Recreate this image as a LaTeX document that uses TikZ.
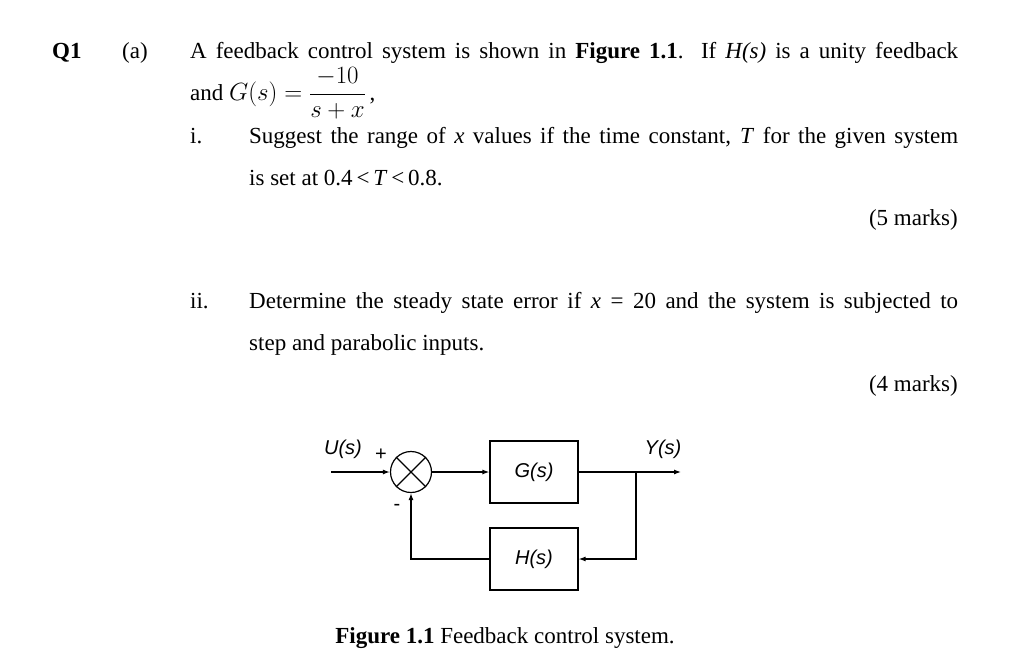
\documentclass[tikz,border=0pt]{standalone}
\usepackage{fontspec}
\setmainfont{Liberation Serif}
\newfontfamily\diagfont{Liberation Sans}
\usetikzlibrary{arrows.meta}
\begin{document}
\begin{tikzpicture}[x=1pt,y=-1pt,
  txt/.style={anchor=base west,inner sep=0pt,font=\fontsize{23}{27}\selectfont},
  dtxt/.style={inner sep=0pt,font=\diagfont\itshape\fontsize{20}{24}\selectfont},
  blk/.style={draw,line width=1.2pt,minimum width=88pt,minimum height=62pt,inner sep=0pt,font=\diagfont\itshape\fontsize{20}{24}\selectfont},
  ln/.style={line width=1.2pt},
  arr/.style={line width=1.2pt,-{Latex[length=7pt,width=5pt]}}]
\useasboundingbox (0,0) rectangle (1021,670);
\node[txt] (q1) at (52,58) {\textbf{Q1}};
\node[txt] (a) at (122,58) {(a)};
\node[txt] (l1) at (190,58) {\makebox[768pt][s]{A feedback control system is shown in \textbf{Figure 1.1}. If \textit{H(s)} is a unity feedback}};
\node[txt] (l2) at (190,100) {and $\displaystyle G(s)=\frac{-10}{s+x}$\,,};
\node[txt] (i) at (190,143) {i.};
\node[txt] (l3) at (249,143) {\makebox[709pt][s]{Suggest the range of \textit{x} values if the time constant, \textit{T} for the given system}};
\node[txt] (l4) at (249,185) {is set at 0.4\,<\,\textit{T}\,<\,0.8.};
\node[txt,anchor=base east] (m5) at (958,225) {(5 marks)};
\node[txt] (ii) at (190,308) {ii.};
\node[txt] (l5) at (249,308) {\makebox[709pt][s]{Determine the steady state error if \textit{x} = 20 and the system is subjected to}};
\node[txt] (l6) at (249,350) {step and parabolic inputs.};
\node[txt,anchor=base east] (m4) at (958,391) {(4 marks)};
\node[txt,anchor=base] (cap) at (505,643) {\textbf{Figure 1.1} Feedback control system.};
% diagram
\node[draw,circle,line width=1.2pt,minimum size=41pt,inner sep=0pt] (sum) at (411,472) {};
\draw[ln] (sum.north west)--(sum.south east) (sum.north east)--(sum.south west);
\node[blk] (G) at (534,472) {G(s)};
\node[blk] (H) at (534,559) {H(s)};
\coordinate (in) at (331,472);
\coordinate (out) at (681,472);
\coordinate (br) at (636,472);
\draw[arr] (in)--(sum.west);
\draw[arr] (sum.east)--(G.west);
\draw[arr] (G.east)--(out);
\draw[arr] (br)|-(H.east);
\draw[arr] (H.west)-|(sum.south);
\node[dtxt] (u) at (343,449) {U(s)};
\node[dtxt] (y) at (663,449) {Y(s)};
\node[dtxt,font=\diagfont\fontsize{20}{24}\selectfont] (p) at (381,455) {+};
\node[dtxt,font=\diagfont\fontsize{20}{24}\selectfont] (m) at (397,507) {-};
\end{tikzpicture}
\end{document}
